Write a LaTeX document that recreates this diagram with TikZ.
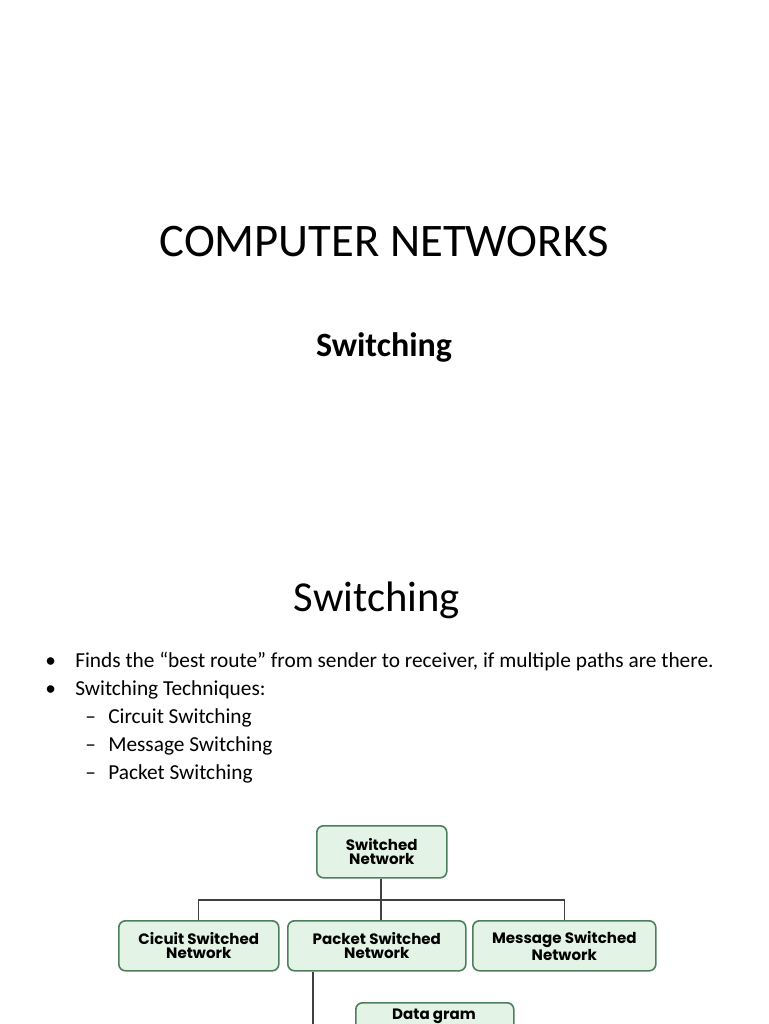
\documentclass[tikz,border=0pt]{standalone}
\usepackage{fontspec}
\setmainfont{Carlito}
\newfontfamily\boxfont{Poppins}
\definecolor{boxfill}{HTML}{E3F4E6}
\definecolor{boxline}{HTML}{4E7F5C}
\begin{document}
\begin{tikzpicture}[x=0.75pt,y=-0.75pt,
  gbox/.style={draw=boxline,line width=1.2pt,fill=boxfill,rounded corners=5pt,inner sep=0pt,
    font=\boxfont\bfseries\fontsize{11.3}{10.5}\selectfont,align=center,anchor=north west},
  conn/.style={draw=black!75,line width=0.8pt}]
\useasboundingbox (0,0) rectangle (768,1024);
\node (title) at (384,242) {\fontsize{35}{40}\selectfont COMPUTER NETWORKS};
\node (sub) at (384,347) {\fontsize{25.5}{30}\selectfont\bfseries Switching};
\node (head) at (377,600) {\fontsize{32}{38}\selectfont Switching};
\begin{scope}[every node/.style={anchor=base west,inner sep=0pt,font=\fontsize{16}{19}\selectfont}]
\node (b1) at (45,667) {•};
\node (t1) at (75,667) {Finds the “best route” from sender to receiver, if multiple paths are there.};
\node (b2) at (45,695) {•};
\node (t2) at (75,695) {Switching Techniques:};
\node (d1) at (85,723) {–};
\node (s1) at (108,723) {Circuit Switching};
\node (d2) at (85,751) {–};
\node (s2) at (108,751) {Message Switching};
\node (d3) at (85,779) {–};
\node (s3) at (108,779) {Packet Switching};
\end{scope}
\node[gbox,minimum width=130*0.75pt,minimum height=52*0.75pt] (sw) at (316,825) {Switched\\Network};
\node[gbox,minimum width=160*0.75pt,minimum height=50*0.75pt] (ci) at (118,920) {Cicuit Switched\\Network};
\node[gbox,minimum width=178*0.75pt,minimum height=50*0.75pt] (pa) at (287,920) {Packet Switched\\Network};
\node[gbox,minimum width=183*0.75pt,minimum height=50*0.75pt] (me) at (472,920) {Message Switched\\Network};
\node[gbox,minimum width=158*0.75pt,minimum height=34*0.75pt] (dg) at (355,1002) {};
\node[font=\boxfont\bfseries\fontsize{11.3}{10.5}\selectfont] (dgt) at (434,1016) {Data gram};
\coordinate (j) at (381,900);
\coordinate (pend) at (313,1026);
\draw[conn] (j |- sw.south) -- (j);
\draw[conn] (ci.north) |- (j) -| (me.north);
\draw[conn] (j) -- (j |- pa.north);
\draw[conn] (pa.south -| pend) -- (pend);
\end{tikzpicture}
\end{document}
